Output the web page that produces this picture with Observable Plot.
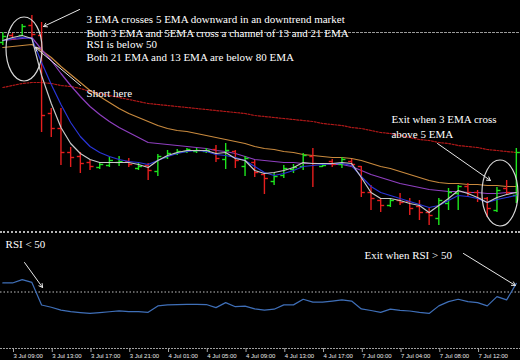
<!DOCTYPE html>
<html><head><meta charset="utf-8">
<script src="https://cdn.jsdelivr.net/npm/d3@7"></script>
<script src="https://cdn.jsdelivr.net/npm/@observablehq/plot@0.6"></script>
<style>
html,body{margin:0;padding:0;background:#000;}
#wrap{position:relative;width:520px;height:360px;background:#000;overflow:hidden;}
#wrap svg{display:block;}
#sep{position:absolute;left:0;top:231px;width:520px;height:0;border-top:2px dotted #b4b4b4;}
</style></head><body>
<div id="wrap"><div id="price"></div><div id="rsi"></div><div id="sep"></div></div>
<script>
// ---- data: hourly EUR/USD-like bars, 3 Jul 08:00 .. 7 Jul 16:00 ----
const tickBars   = [1,5,9,13,17,21,25,29,33,37,41,45,49];
const tickLabels = ["3 Jul 09:00","3 Jul 13:00","3 Jul 17:00","3 Jul 21:00","4 Jul 01:00","4 Jul 05:00","4 Jul 09:00","4 Jul 13:00","4 Jul 17:00","7 Jul 00:00","7 Jul 04:00","7 Jul 08:00","7 Jul 12:00"];

const open  = [1.5908,1.5915,1.5915,1.5925,1.5915,1.5837,1.5822,1.5798,1.5794,1.5788,1.5783,1.5785,1.5788,1.5789,1.5782,1.5785,1.5779,1.5793,1.5797,1.5799,1.5799,1.5799,1.5801,1.5791,1.5799,1.5784,1.5788,1.5776,1.5769,1.5775,1.5781,1.5784,1.5794,1.5784,1.5789,1.5786,1.5789,1.5784,1.5758,1.5750,1.5745,1.5750,1.5749,1.5744,1.5738,1.5732,1.5747,1.5757,1.5764,1.5758,1.5752,1.5740,1.5762,1.5755];
const high  = [1.5918,1.5917,1.5926,1.5935,1.5928,1.5842,1.5842,1.5803,1.5798,1.5790,1.5788,1.5793,1.5794,1.5792,1.5787,1.5787,1.5796,1.5800,1.5801,1.5802,1.5802,1.5802,1.5805,1.5807,1.5800,1.5794,1.5790,1.5777,1.5777,1.5785,1.5786,1.5797,1.5802,1.5786,1.5791,1.5793,1.5791,1.5784,1.5765,1.5752,1.5752,1.5757,1.5752,1.5750,1.5742,1.5752,1.5762,1.5765,1.5767,1.5760,1.5753,1.5763,1.5770,1.5802];
const low   = [1.5905,1.5910,1.5914,1.5913,1.5818,1.5813,1.5785,1.5783,1.5777,1.5780,1.5781,1.5783,1.5784,1.5783,1.5780,1.5770,1.5774,1.5791,1.5795,1.5797,1.5797,1.5797,1.5788,1.5781,1.5782,1.5774,1.5773,1.5756,1.5765,1.5772,1.5777,1.5780,1.5763,1.5783,1.5783,1.5782,1.5783,1.5753,1.5740,1.5738,1.5743,1.5745,1.5735,1.5730,1.5725,1.5725,1.5740,1.5740,1.5753,1.5748,1.5733,1.5738,1.5755,1.5747];
const close = [1.5914,1.5912,1.5924,1.5916,1.5835,1.5822,1.5798,1.5793,1.5787,1.5784,1.5786,1.5790,1.5789,1.5786,1.5784,1.5780,1.5794,1.5797,1.5799,1.5801,1.5800,1.5800,1.5792,1.5800,1.5790,1.5792,1.5778,1.5772,1.5774,1.5782,1.5783,1.5795,1.5787,1.5785,1.5786,1.5791,1.5786,1.5758,1.5752,1.5745,1.5750,1.5748,1.5742,1.5738,1.5735,1.5750,1.5758,1.5764,1.5758,1.5752,1.5742,1.5760,1.5758,1.5798];

const ema3  = [1.5910,1.5913,1.5915,1.5912,1.5875,1.5847,1.5823,1.5807,1.5797,1.5791,1.5788,1.5788,1.5788,1.5788,1.5786,1.5783,1.5790,1.5795,1.5798,1.5800,1.5800,1.5800,1.5797,1.5798,1.5792,1.5790,1.5780,1.5777,1.5778,1.5780,1.5783,1.5788,1.5787,1.5787,1.5787,1.5788,1.5787,1.5773,1.5758,1.5752,1.5752,1.5750,1.5747,1.5745,1.5738,1.5745,1.5752,1.5760,1.5757,1.5753,1.5748,1.5753,1.5756,1.5758];
const ema5  = [1.5910,1.5912,1.5913,1.5912,1.5888,1.5866,1.5846,1.5828,1.5814,1.5804,1.5798,1.5794,1.5791,1.5789,1.5788,1.5786,1.5790,1.5794,1.5797,1.5799,1.5800,1.5799,1.5796,1.5795,1.5793,1.5790,1.5784,1.5778,1.5775,1.5777,1.5780,1.5784,1.5785,1.5786,1.5787,1.5787,1.5785,1.5774,1.5764,1.5758,1.5755,1.5752,1.5749,1.5746,1.5743,1.5745,1.5750,1.5755,1.5754,1.5752,1.5748,1.5751,1.5753,1.5755];
const ema13 = [1.5910,1.5911,1.5912,1.5913,1.5901,1.5890,1.5877,1.5865,1.5854,1.5844,1.5836,1.5829,1.5823,1.5818,1.5813,1.5808,1.5807,1.5806,1.5805,1.5804,1.5803,1.5802,1.5800,1.5799,1.5797,1.5794,1.5791,1.5790,1.5789,1.5788,1.5788,1.5787,1.5787,1.5787,1.5786,1.5786,1.5784,1.5780,1.5776,1.5773,1.5770,1.5767,1.5765,1.5763,1.5761,1.5760,1.5759,1.5759,1.5758,1.5758,1.5757,1.5757,1.5758,1.5758];
const ema21 = [1.5903,1.5904,1.5905,1.5906,1.5900,1.5893,1.5884,1.5876,1.5868,1.5860,1.5854,1.5848,1.5842,1.5837,1.5833,1.5829,1.5825,1.5822,1.5820,1.5819,1.5817,1.5815,1.5813,1.5811,1.5809,1.5807,1.5804,1.5802,1.5801,1.5799,1.5798,1.5796,1.5795,1.5794,1.5793,1.5793,1.5792,1.5790,1.5787,1.5784,1.5782,1.5779,1.5776,1.5773,1.5770,1.5768,1.5767,1.5767,1.5766,1.5766,1.5765,1.5765,1.5764,1.5764];
const ema80 = [1.5863,1.5865,1.5867,1.5868,1.5868,1.5867,1.5865,1.5864,1.5862,1.5859,1.5857,1.5855,1.5853,1.5851,1.5849,1.5847,1.5846,1.5845,1.5844,1.5843,1.5842,1.5841,1.5840,1.5839,1.5838,1.5837,1.5835,1.5834,1.5833,1.5832,1.5831,1.5830,1.5829,1.5827,1.5826,1.5825,1.5823,1.5822,1.5820,1.5818,1.5817,1.5815,1.5813,1.5811,1.5810,1.5808,1.5807,1.5805,1.5804,1.5803,1.5801,1.5800,1.5799,1.5798];

const rsi = [58,58,61,58.5,38.5,36.5,34,32.7,31.8,31,31.7,32.5,33.3,32.7,32.7,32,37.7,38.6,38.9,39,39,38.9,36.2,40.6,37,37.5,35,34,34.8,38.6,38.6,43.6,41,41,42,43,42,35,33.6,32,34.8,33.8,33.2,32,31,37.7,41.5,43.6,41.5,40.6,37.7,45.9,43,57.6];

const bidLevel = 1.5918;
const rsiLevel = 50;

// annotations (x in bar units, y in price / RSI units)
const priceNotes = [
  {text:"3 EMA crosses 5 EMA downward in an downtrend market", x:8.64, y:1.5928},
  {text:"Both 3 EMA and 5EMA cross a channel of 13 and 21 EMA", x:8.64, y:1.5914},
  {text:"RSI is below 50", x:8.64, y:1.5903},
  {text:"Both 21 EMA and 13 EMA are below 80 EMA", x:8.64, y:1.5890},
  {text:"Short here", x:8.64, y:1.5854},
  {text:"Exit when 3 EMA cross", x:40.11, y:1.5828},
  {text:"above 5 EMA", x:40.11, y:1.5813}
];
const priceArrows = [
  {x1:7.92, y1:1.5941, x2:4.20, y2:1.5924},
  {x1:8.02, y1:1.5865, x2:3.37, y2:1.5903},
  {x1:44.86, y1:1.5807, x2:50.33, y2:1.5770}
];
const priceRings = [
  {x:2.24, y:1.5901, rx:1.86, ry:0.0032},
  {x:51.36, y:1.5757, rx:1.86, ry:0.0033}
];
const rsiNotes = [
  {text:"RSI < 50", x:0.28, y:88.5},
  {text:"Exit when RSI > 50", x:37.33, y:79.6}
];
const rsiArrows = [
  {x1:2.24, y1:76.1, x2:4.10, y2:54.0},
  {x1:47.54, y1:84.1, x2:52.9, y2:55.8}
];

// ---- build ----
const UP = "#1ee61e", DOWN = "#e61e1e";
const bars = close.map((c, i) => ({i, open: open[i], high: high[i], low: low[i], close: c, col: c >= open[i] ? UP : DOWN}));
const xDomain = [-0.24, 53.43];
const openTick  = {draw(ctx){ ctx.moveTo(-3.5, 0); ctx.lineTo(0, 0); }};
const closeTick = {draw(ctx){ ctx.moveTo(0, 0); ctx.lineTo(3.5, 0); }};
const idx = (d, i) => i, val = d => d;
const serif = "Liberation Serif, Times New Roman, serif";

const pricePlot = Plot.plot({
  width: 520, height: 232, margin: 0,
  x: {domain: xDomain, axis: null},
  y: {domain: [1.5718, 1.5950], axis: null},
  color: {type: "identity"},
  style: {background: "#000", color: "#fff", overflow: "visible"},
  marks: [
    Plot.ruleY([bidLevel], {stroke: "#9a9a9a", strokeWidth: 1, strokeDasharray: "3,1"}),
    Plot.line(ema80, {x: idx, y: val, stroke: "#b01818", strokeWidth: 1.2, strokeDasharray: "2,1.5"}),
    Plot.line(ema21, {x: idx, y: val, stroke: "#c98a3e", strokeWidth: 1.2}),
    Plot.line(ema13, {x: idx, y: val, stroke: "#8f3fc0", strokeWidth: 1.2}),
    Plot.ruleX(bars, {x: "i", y1: "low", y2: "high", stroke: "col", strokeWidth: 1.4}),
    Plot.dot(bars, {x: "i", y: "open", symbol: openTick, stroke: "col", fill: "none", strokeWidth: 1.4}),
    Plot.dot(bars, {x: "i", y: "close", symbol: closeTick, stroke: "col", fill: "none", strokeWidth: 1.4}),
    Plot.line(ema5, {x: idx, y: val, stroke: "#2a35d8", strokeWidth: 1.2}),
    Plot.line(ema3, {x: idx, y: val, stroke: "#c8c8c8", strokeWidth: 1.2}),
    Plot.arrow(priceArrows, {x1: "x1", y1: "y1", x2: "x2", y2: "y2", stroke: "#e8e8e8", strokeWidth: 1, headLength: 6}),
    Plot.text(priceNotes, {x: "x", y: "y", text: "text", fill: "#fff", fontFamily: serif, fontSize: 11, textAnchor: "start", lineAnchor: "bottom"})
  ]
});
{
  const sx = pricePlot.scale("x"), sy = pricePlot.scale("y");
  const svg = d3.select(pricePlot);
  for (const r of priceRings) {
    svg.append("ellipse")
      .attr("cx", sx.apply(r.x)).attr("cy", sy.apply(r.y))
      .attr("rx", sx.apply(r.x + r.rx) - sx.apply(r.x))
      .attr("ry", sy.apply(r.y - r.ry) - sy.apply(r.y))
      .attr("fill", "none").attr("stroke", "#d8d8d8").attr("stroke-width", 1.2);
  }
}
document.getElementById("price").appendChild(pricePlot);

const rsiPlot = Plot.plot({
  width: 520, height: 128, marginTop: 3, marginBottom: 12, marginLeft: 0, marginRight: 0,
  x: {domain: xDomain},
  y: {domain: [0, 100], axis: null},
  style: {background: "#000", color: "#fff", overflow: "visible"},
  marks: [
    Plot.ruleY([rsiLevel], {stroke: "#c0c0c0", strokeDasharray: "1.5,2"}),
    Plot.ruleY([0], {stroke: "#a0a0a0", strokeDasharray: "2,1"}),
    Plot.line(rsi, {x: idx, y: val, stroke: "#3f6fb8", strokeWidth: 1.2}),
    Plot.arrow(rsiArrows, {x1: "x1", y1: "y1", x2: "x2", y2: "y2", stroke: "#e8e8e8", strokeWidth: 1, headLength: 6}),
    Plot.text(rsiNotes, {x: "x", y: "y", text: "text", fill: "#fff", fontFamily: serif, fontSize: 11, textAnchor: "start", lineAnchor: "bottom"}),
    Plot.axisX({ticks: tickBars, tickFormat: d => tickLabels[tickBars.indexOf(d)], tickSize: 4, tickPadding: 1,
      textAnchor: "start", dx: 1, fontSize: 6, fontFamily: "Liberation Sans, Arial, sans-serif", fill: "#e8e8e8", stroke: "#a8a8a8", label: null})
  ]
});
document.getElementById("rsi").appendChild(rsiPlot);
</script>
</body></html>
